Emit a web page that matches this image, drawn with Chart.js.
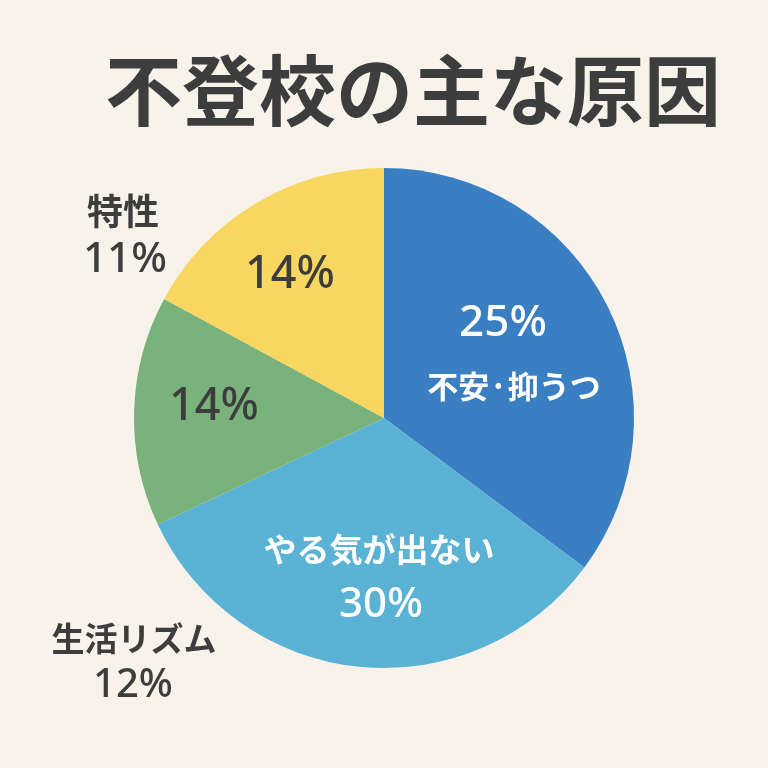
<!DOCTYPE html>
<html lang="ja">
<head>
<meta charset="utf-8">
<title>不登校の主な原因</title>
<script src="https://cdn.jsdelivr.net/npm/chart.js@4.4.1/dist/chart.umd.min.js"></script>
<style>
    html, body { margin: 0; padding: 0; background: #f7f3ea; }
    #wrap { width: 768px; height: 768px; position: relative; }
</style>
</head>
<body>
<div id="wrap"><canvas id="pieChart"></canvas></div>
<script>
const chartTitle = '不登校の主な原因';

// Slices clockwise from 12 o'clock (share of the circle)
const categories = ['不安·抑うつ', 'やる気が出ない', '生活リズム', '特性'];
const sliceValues = [35.2, 32.8, 14.9, 17.1];
const sliceColors = ['#3a7fc2', '#5ab2d4', '#79b37b', '#f9d65f'];

// Percent text printed on the picture
const printedPercents = ['25%', '30%', '14%', '14%'];
const outerNotes = ['特性', '生活リズム'];
const outerPercents = ['11%', '12%'];

const FONT = '"Noto Sans CJK JP", "Noto Sans", sans-serif';
const NUM_FONT = '"Noto Sans", "Noto Sans CJK JP", sans-serif';
const DARK = '#3d3d3d';

// Text placement: offsets from the pie centre, in px
const textLayout = [
    { text: printedPercents[0], dx: 119, dy: -95, size: 44, weight: 500, color: '#ffffff', num: true },
    { text: categories[0], dx: 130, dy: -32, size: 31, weight: 700, color: '#ffffff' },
    { text: categories[1], dx: -5, dy: 131, size: 33, weight: 700, color: '#ffffff' },
    { text: printedPercents[1], dx: -3, dy: 187, size: 42, weight: 500, color: '#ffffff', num: true },
    { text: printedPercents[2], dx: -170, dy: -11, size: 45, weight: 500, color: DARK, num: true },
    { text: printedPercents[3], dx: -94, dy: -143, size: 45, weight: 500, color: DARK, num: true },
    { text: outerNotes[0], dx: -261, dy: -207, size: 36, weight: 700, color: DARK },
    { text: outerPercents[0], dx: -259, dy: -158, size: 42, weight: 500, color: DARK, num: true },
    { text: outerNotes[1], dx: -250, dy: 220, size: 33, weight: 700, color: DARK },
    { text: outerPercents[1], dx: -251, dy: 268, size: 40, weight: 500, color: DARK, num: true }
];

const textPlugin = {
    id: 'pieText',
    afterDraw(chart) {
        const ctx = chart.ctx;
        const arc = chart.getDatasetMeta(0).data[0];
        if (!arc) return;
        const cx = arc.x;
        const cy = arc.y;

        ctx.save();
        ctx.textAlign = 'center';
        ctx.textBaseline = 'middle';

        // Title
        ctx.fillStyle = DARK;
        ctx.font = `700 77px ${FONT}`;
        ctx.fillText(chartTitle, 413, 91);

        textLayout.forEach(t => {
            ctx.fillStyle = t.color;
            ctx.font = `${t.weight} ${t.size}px ${t.num ? NUM_FONT : FONT}`;
            ctx.fillText(t.text, cx + t.dx, cy + t.dy);
        });
        ctx.restore();
    }
};

const ctx = document.getElementById('pieChart').getContext('2d');
new Chart(ctx, {
    type: 'pie',
    data: {
        labels: categories,
        datasets: [{
            data: sliceValues,
            backgroundColor: sliceColors,
            borderWidth: 0,
            hoverOffset: 0
        }]
    },
    options: {
        responsive: true,
        maintainAspectRatio: false,
        animation: false,
        layout: { padding: { top: 168, bottom: 100, left: 134, right: 134 } },
        plugins: {
            legend: { display: false },
            tooltip: { enabled: false },
            title: { display: false }
        }
    },
    plugins: [textPlugin]
});
</script>
</body>
</html>
